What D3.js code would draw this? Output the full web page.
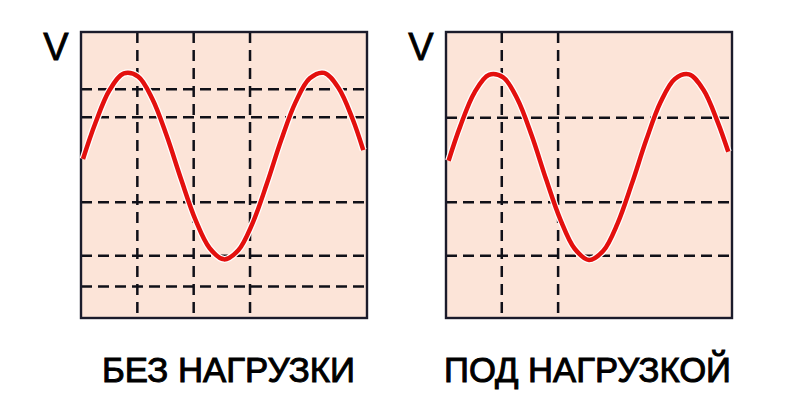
<!DOCTYPE html>
<html lang="ru">
<head>
<meta charset="UTF-8">
<title>Напряжение без нагрузки и под нагрузкой</title>
<script src="https://d3js.org/d3.v7.min.js"></script>
<style>
    body { margin: 0; background: #fff; }
    svg text { font-family: "Liberation Sans", Arial, sans-serif; fill: #000; }
</style>
</head>
<body>
<div id="chart"></div>
<script>
    // panel titles
    const titles = ["БЕЗ НАГРУЗКИ", "ПОД НАГРУЗКОЙ"];

    // grid positions (screen divisions, x: 0..10, y: -5..5)
    const gridX1 = [1.97, 3.94, 5.91];
    const gridY1 = [3.0, 2.02, -0.95, -2.82, -3.9];
    const gridX2 = [1.95, 3.92];
    const gridY2 = [2.0, -0.95, -2.82];

    // waveform samples
    const t1 = [0.07, 0.5, 1.0, 1.5, 2.0, 2.5, 3.0, 3.5, 4.0, 4.5, 5.0, 5.5, 6.0, 6.5, 7.0, 7.5, 8.0, 8.5, 9.0, 9.5, 9.87];
    const v1 = [0.56, 1.81, 2.97, 3.55, 3.44, 2.65, 1.36, -0.15, -1.56, -2.56, -2.95, -2.63, -1.68, -0.30, 1.22, 2.54, 3.38, 3.57, 3.05, 1.95, 0.87];
    const t2 = [0.09, 0.5, 1.0, 1.5, 2.0, 2.5, 3.0, 3.5, 4.0, 4.5, 5.0, 5.5, 6.0, 6.5, 7.0, 7.5, 8.0, 8.5, 9.0, 9.5, 9.87];
    const v2 = [0.50, 1.71, 2.89, 3.50, 3.41, 2.65, 1.37, -0.15, -1.56, -2.58, -2.97, -2.65, -1.69, -0.30, 1.22, 2.54, 3.36, 3.52, 2.98, 1.85, 0.81];

    const width = 800, height = 400;

    const svg = d3.select("#chart")
        .append("svg")
        .attr("width", width)
        .attr("height", height);

    const panels = [
        {title: titles[0], gx: gridX1, gy: gridY1, t: t1, v: v1, left: 81, textLeft: 102, textLen: 253},
        {title: titles[1], gx: gridX2, gy: gridY2, t: t2, v: v2, left: 446, textLeft: 444, textLen: 287}
    ];

    const boxW = 286, boxTop = 32, boxH = 286;

    panels.forEach(p => {
        const x = d3.scaleLinear().domain([0, 10]).range([p.left, p.left + boxW]);
        const y = d3.scaleLinear().domain([-5, 5]).range([boxTop + boxH, boxTop]);
        const g = svg.append("g");

        // screen
        g.append("rect")
            .attr("x", x(0)).attr("y", y(5))
            .attr("width", x(10) - x(0)).attr("height", y(-5) - y(5))
            .attr("fill", "#fce4d8");

        // dashed grid
        g.selectAll(".gx")
            .data(p.gx)
            .join("line")
            .attr("class", "gx")
            .attr("x1", d => x(d)).attr("x2", d => x(d))
            .attr("y1", y(5)).attr("y2", y(-5))
            .attr("stroke", "#101018")
            .attr("stroke-width", 2.5)
            .attr("stroke-dasharray", "11,7");

        g.selectAll(".gy")
            .data(p.gy)
            .join("line")
            .attr("class", "gy")
            .attr("x1", x(0)).attr("x2", x(10))
            .attr("y1", d => y(d)).attr("y2", d => y(d))
            .attr("stroke", "#101018")
            .attr("stroke-width", 2.5)
            .attr("stroke-dasharray", "11,6");

        // frame
        g.append("rect")
            .attr("x", x(0)).attr("y", y(5))
            .attr("width", x(10) - x(0)).attr("height", y(-5) - y(5))
            .attr("fill", "none")
            .attr("stroke", "#1b1b2b")
            .attr("stroke-width", 2.4);

        const pts = p.t.map((d, i) => [d, p.v[i]]);
        const line = d3.line()
            .x(d => x(d[0]))
            .y(d => y(d[1]))
            .curve(d3.curveCatmullRom);

        // white halo under the trace
        g.append("path")
            .attr("d", line(pts))
            .attr("fill", "none")
            .attr("stroke", "#fff")
            .attr("stroke-width", 7);

        g.append("path")
            .attr("d", line(pts))
            .attr("fill", "none")
            .attr("stroke", "#e3100e")
            .attr("stroke-width", 4.5);

        // axis letter
        g.append("text")
            .attr("x", p.left - 25)
            .attr("y", 60)
            .attr("text-anchor", "middle")
            .attr("font-size", 38)
            .attr("stroke", "#000")
            .attr("stroke-width", 0.8)
            .text("V");

        g.append("text")
            .attr("x", p.textLeft)
            .attr("y", 382)
            .attr("font-size", 35)
            .attr("stroke", "#000")
            .attr("stroke-width", 1)
            .attr("textLength", p.textLen)
            .attr("lengthAdjust", "spacingAndGlyphs")
            .text(p.title);
    });
</script>
</body>
</html>
